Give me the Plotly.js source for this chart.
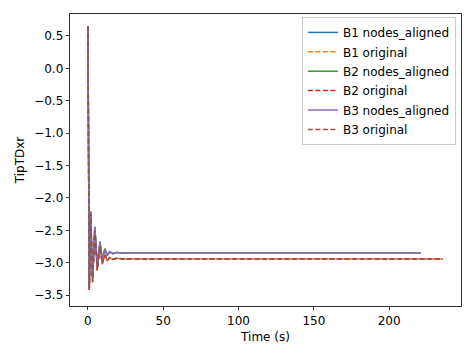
<!DOCTYPE html>
<html><head><meta charset="utf-8">
<script src="https://cdn.plot.ly/plotly-3.0.1.min.js"></script>
<style>html,body{margin:0;padding:0;background:#fff}#chart{width:474px;height:357px}</style>
</head><body><div id="chart"></div>
<script>
// Time points (s)
const tAligned  = [0, 0.9, 1.8, 3.1, 4.6, 6.2, 8.0, 9.5, 11.3, 12.8, 14.5, 16.5, 19, 23, 30, 221];
const tOriginal = [0, 0.9, 1.8, 3.1, 4.6, 6.2, 8.0, 9.5, 11.3, 12.8, 14.5, 16.5, 19, 23, 30, 235.5];

const b1Aligned  = [0.65, -3.40, -2.22, -3.25, -2.46, -3.06, -2.67, -2.95, -2.79, -2.89, -2.83, -2.86, -2.84, -2.85, -2.845, -2.845];
const b1Original = [0.65, -3.42, -2.24, -3.30, -2.50, -3.12, -2.74, -3.02, -2.87, -2.97, -2.92, -2.95, -2.93, -2.94, -2.94, -2.94];
const b2Aligned  = [0.65, -3.40, -2.21, -3.24, -2.44, -3.05, -2.68, -2.94, -2.78, -2.88, -2.83, -2.86, -2.84, -2.85, -2.845, -2.845];
const b2Original = [0.65, -3.42, -2.25, -3.30, -2.51, -3.12, -2.75, -3.02, -2.88, -2.97, -2.92, -2.95, -2.93, -2.94, -2.94, -2.94];
const b3Aligned  = [0.65, -3.39, -2.20, -3.24, -2.45, -3.05, -2.69, -2.95, -2.80, -2.88, -2.83, -2.86, -2.84, -2.85, -2.845, -2.845];
const b3Original = [0.65, -3.42, -2.24, -3.29, -2.50, -3.11, -2.75, -3.01, -2.88, -2.97, -2.92, -2.95, -2.93, -2.94, -2.94, -2.94];

const names  = ["B1 nodes_aligned","B1 original","B2 nodes_aligned","B2 original","B3 nodes_aligned","B3 original"];
const colors = ["#1f77b4","#ff7f0e","#2ca02c","#d62728","#9467bd","#8c564b"];
const series = [[tAligned,b1Aligned],[tOriginal,b1Original],[tAligned,b2Aligned],[tOriginal,b2Original],[tAligned,b3Aligned],[tOriginal,b3Original]];

const traces = series.map((s,i)=>({
  x: s[0], y: s[1], type:'scatter', mode:'lines', name: names[i],
  legendgroup: 'g'+i,
  line: {color: colors[i], width: 1.5, dash: (i%2===1) ? '5px,2.5px' : 'solid'}
}));

const font = {family:'DejaVu Sans', size:12, color:'#000'};
const layout = {
  width:474, height:357,
  margin:{l:70, r:13, t:14, b:51},
  paper_bgcolor:'#fff', plot_bgcolor:'#fff',
  font: font,
  showlegend:true,
  legend:{x:0.987, y:0.99, xanchor:'right', yanchor:'top',
    bgcolor:'rgba(255,255,255,0.8)', bordercolor:'#cccccc', borderwidth:1,
    font:{family:'DejaVu Sans', size:12, color:'#000'}, tracegroupgap:0.4},
  xaxis:{range:[-11.9,247.7], tickvals:[0,50,100,150,200], ticks:'outside', ticklen:3.5, tickwidth:0.8,
    tickcolor:'#000', showline:true, linecolor:'#000', linewidth:0.8, mirror:true, showgrid:false, zeroline:false,
    title:{text:'Time (s)', font:font, standoff:5}},
  yaxis:{range:[-3.667,0.838], tickvals:[0.5,0,-0.5,-1,-1.5,-2,-2.5,-3,-3.5],
    ticktext:['0.5','0.0','\u22120.5','\u22121.0','\u22121.5','\u22122.0','\u22122.5','\u22123.0','\u22123.5'],
    ticks:'outside', ticklen:3.5, tickwidth:0.8,
    tickcolor:'#000', showline:true, linecolor:'#000', linewidth:0.8, mirror:true, showgrid:false, zeroline:false,
    title:{text:'TipTDxr', font:font, standoff:6}}
};
Plotly.newPlot('chart', traces, layout, {staticPlot:true});
</script></body></html>
